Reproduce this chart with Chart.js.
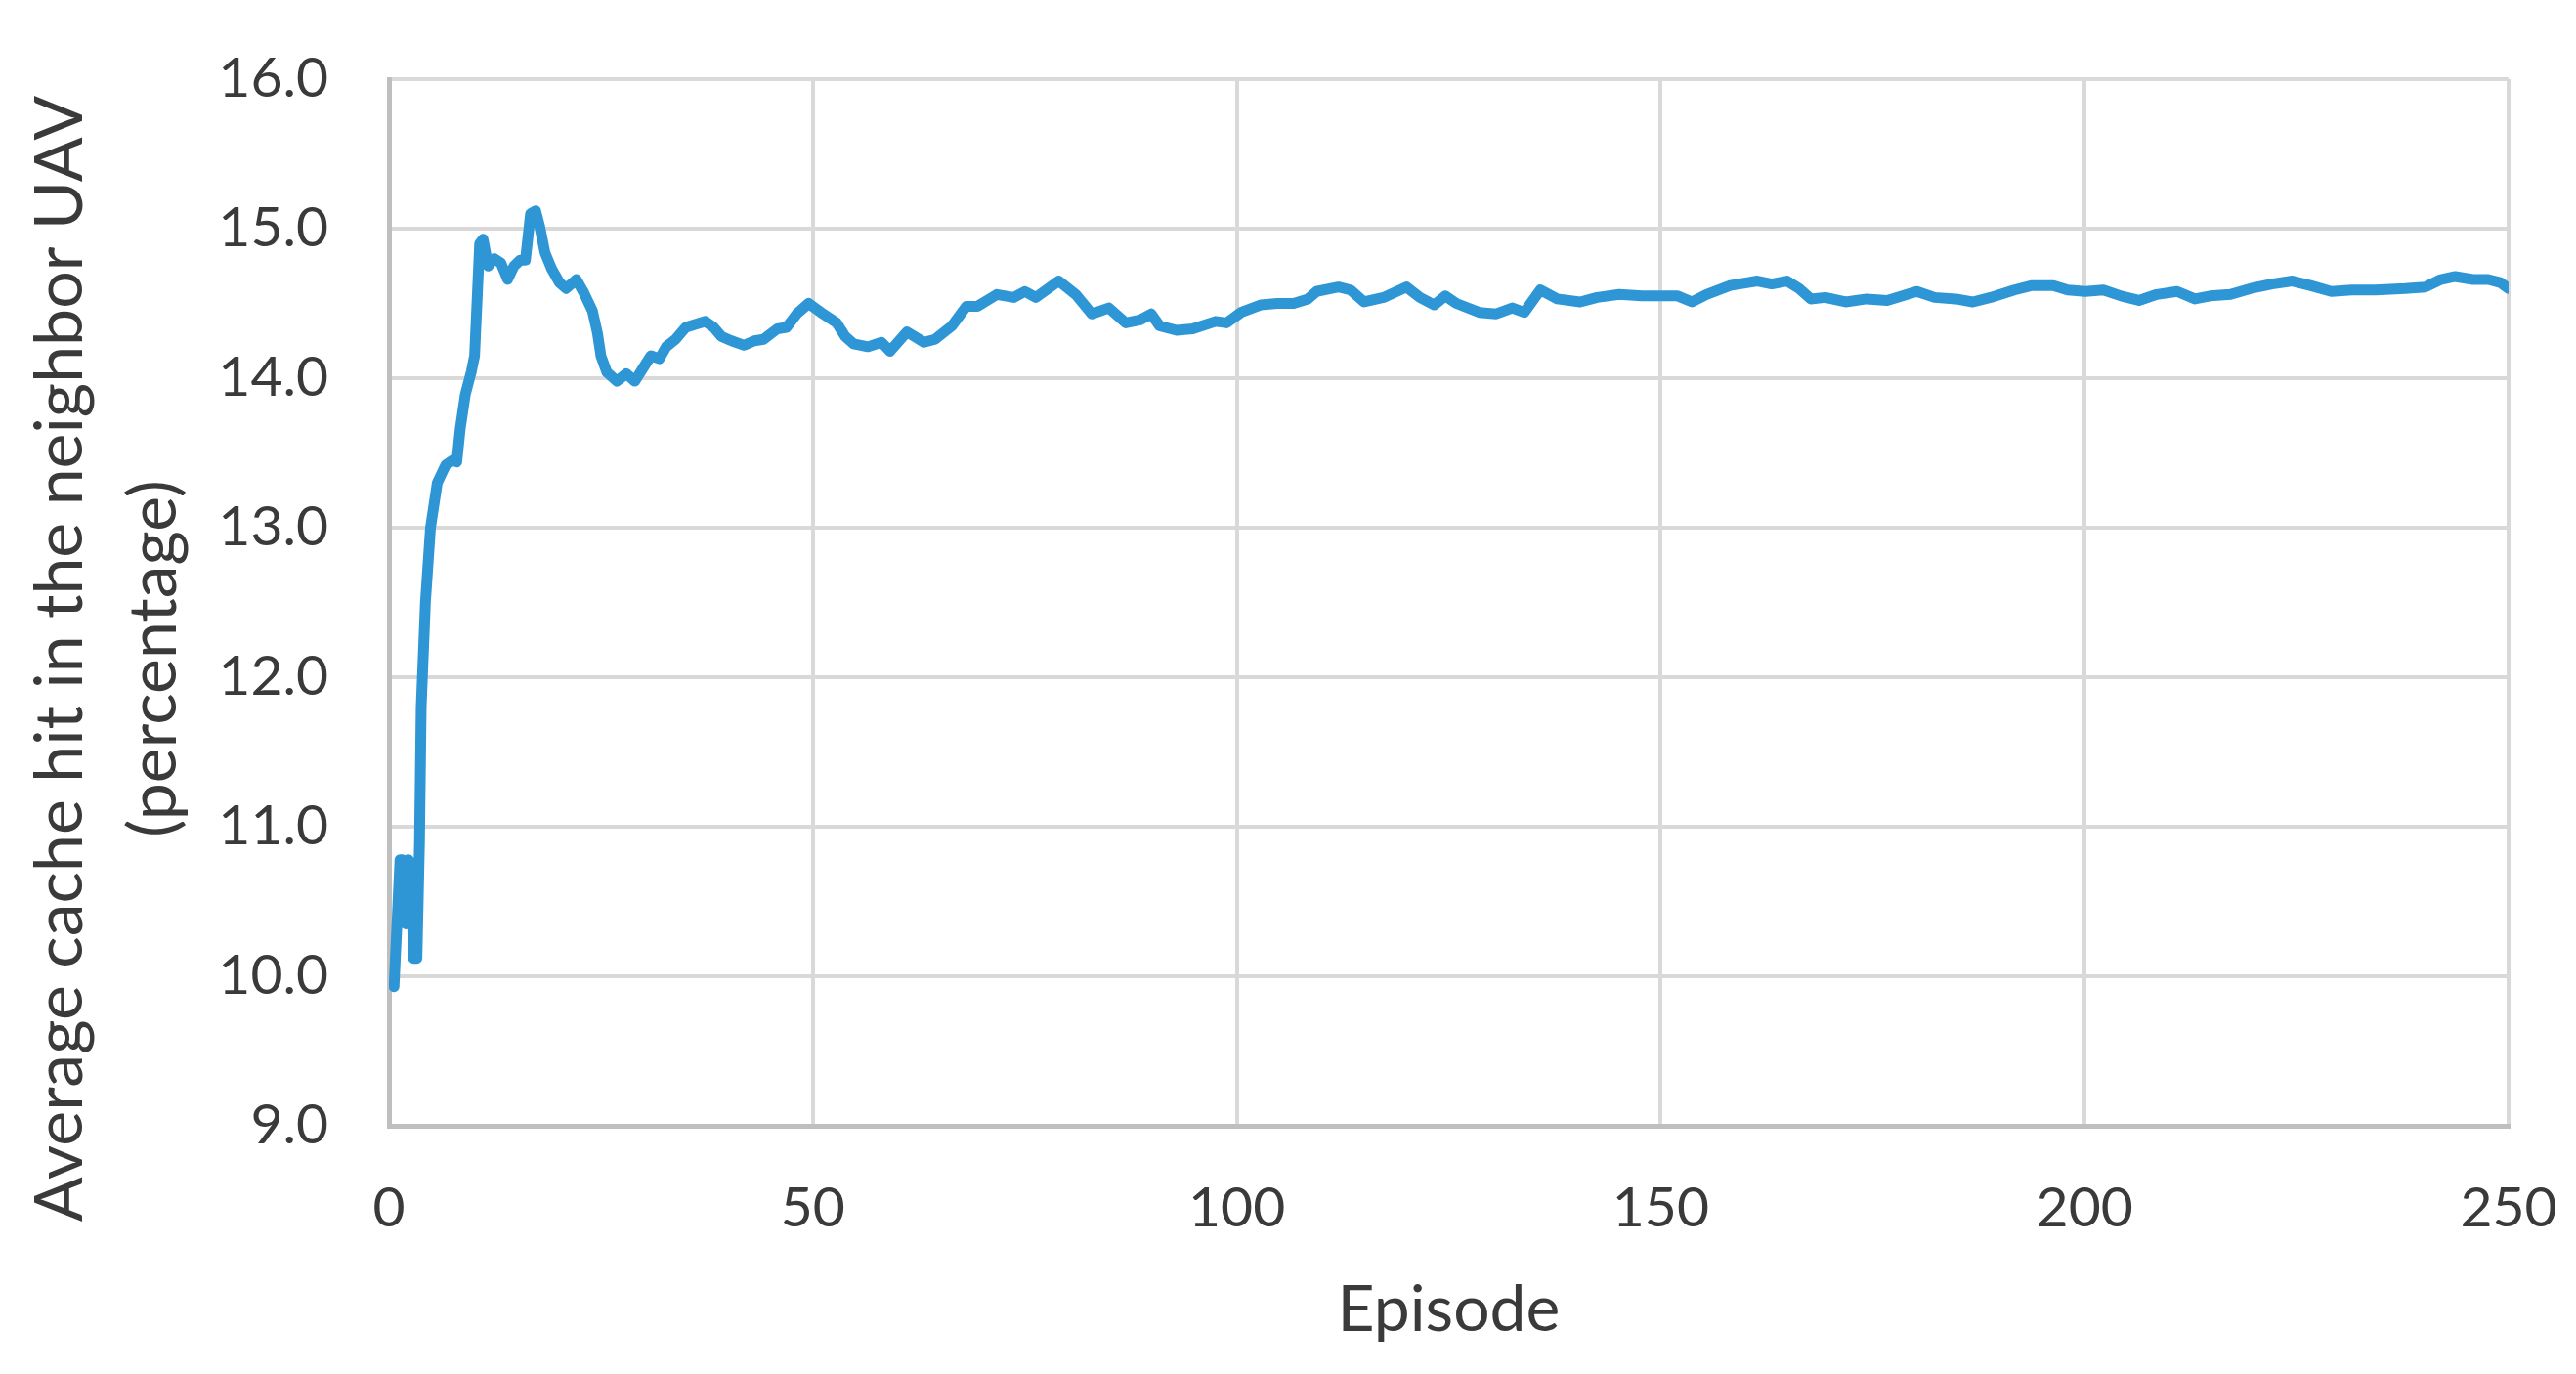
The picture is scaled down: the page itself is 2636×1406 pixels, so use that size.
<!DOCTYPE html>
<html>
<head>
<meta charset="utf-8">
<title>Average cache hit in the neighbor UAV</title>
<script src="https://cdn.jsdelivr.net/npm/chart.js@4/dist/chart.umd.min.js"></script>
<style>
    html, body { margin: 0; padding: 0; background: #ffffff; }
    #chart { display: block; }
</style>
</head>
<body>
<canvas id="chart" width="2636" height="1406"></canvas>
<script>
/* Average cache hit vs. episode */

const episodes = [
    0.6, 1.3, 1.6, 2.0, 2.3, 2.6, 2.9, 3.3, 3.6, 3.8, 4.3, 4.9, 5.7, 6.7, 7.5, 8.0, 8.4, 9.0, 9.7, 10.1,
    10.7, 11.1, 11.7, 12.4, 13.2, 14.0, 14.75, 15.5, 16.1, 16.7, 17.3, 17.8, 18.4, 19.2, 20.1, 20.9,
    22.1, 23.0, 24.0, 24.6, 25.0, 25.7, 26.9, 28.0, 29.0, 30.0, 30.9, 31.9, 32.7, 33.8, 35.0, 36.1,
    37.3, 38.3, 39.2, 40.4, 41.9, 43.1, 44.2, 45.8, 46.9, 48.1, 49.5, 51.2, 52.8, 53.8, 54.8, 56.5,
    58.1, 59.1, 61.1, 63.1, 64.4, 66.4, 68.1, 69.4, 71.7, 73.7, 75.0, 76.3, 79.0, 81.0, 82.9, 84.9,
    86.9, 88.6, 89.9, 90.9, 92.9, 94.8, 97.5, 98.8, 100.5, 102.8, 104.8, 106.7, 108.4, 109.4, 112.0,
    113.4, 115.0, 117.3, 120.0, 121.6, 123.3, 124.6, 125.9, 128.6, 130.6, 132.5, 133.9, 135.8, 137.8,
    140.5, 142.5, 145.1, 147.8, 150.0, 152.0, 153.7, 155.4, 158.2, 161.4, 163.1, 164.9, 166.3, 167.7,
    169.4, 171.8, 174.3, 176.7, 180.2, 182.3, 184.8, 186.8, 188.9, 191.7, 193.8, 196.3, 198.0, 200.1,
    202.2, 204.3, 206.4, 208.5, 210.9, 213.0, 214.8, 217.2, 219.6, 222.1, 224.5, 226.6, 229.1, 231.5,
    234.3, 237.8, 240.2, 242.0, 243.7, 245.8, 247.6, 249.0, 250.0
];

const hitRate = [
    9.93, 10.78, 10.78, 10.35, 10.78, 10.75, 10.12, 10.12, 10.9, 11.8, 12.5, 13.0, 13.3, 13.42, 13.45, 13.44, 13.66, 13.89, 14.04, 14.15,
    14.9, 14.93, 14.75, 14.8, 14.77, 14.66, 14.75, 14.79, 14.79, 15.1, 15.12, 15.01, 14.84, 14.73, 14.64, 14.6,
    14.66, 14.57, 14.45, 14.3, 14.15, 14.04, 13.98, 14.03, 13.98, 14.07, 14.15, 14.13, 14.21, 14.26, 14.34, 14.36,
    14.38, 14.34, 14.28, 14.25, 14.22, 14.25, 14.26, 14.33, 14.34, 14.43, 14.5, 14.43, 14.37, 14.28, 14.23, 14.21,
    14.24, 14.18, 14.31, 14.24, 14.26, 14.35, 14.48, 14.48, 14.56, 14.54, 14.58, 14.54, 14.65, 14.56, 14.43, 14.47,
    14.37, 14.39, 14.43, 14.35, 14.32, 14.33, 14.38, 14.37, 14.44, 14.49, 14.5, 14.5, 14.53, 14.58, 14.61,
    14.59, 14.51, 14.54, 14.61, 14.54, 14.49, 14.55, 14.5, 14.44, 14.43, 14.47, 14.44, 14.59, 14.53,
    14.51, 14.54, 14.56, 14.55, 14.55, 14.55, 14.51, 14.56, 14.62, 14.65, 14.63, 14.65, 14.6, 14.53,
    14.54, 14.51, 14.53, 14.52, 14.58, 14.54, 14.53, 14.51, 14.54, 14.59, 14.62, 14.62, 14.59, 14.58,
    14.59, 14.55, 14.52, 14.56, 14.58, 14.53, 14.55, 14.56, 14.6, 14.63, 14.65, 14.62, 14.58, 14.59,
    14.59, 14.6, 14.61, 14.66, 14.68, 14.66, 14.66, 14.64, 14.6
];

const xTicks = [0, 50, 100, 150, 200, 250];
const yTicks = [9, 10, 11, 12, 13, 14, 15, 16];

const xTitle = 'Episode';
const yTitle = ['Average cache hit in the neighbor UAV', '(percentage)'];

const FONT = "Lato, 'Open Sans', sans-serif";
const TEXT_COLOR = '#3a3a3a';

// Two-line rotated y title, placed where the figure has it
const yTitlePlugin = {
    id: 'yTitle',
    afterDraw(chart) {
        const ctx = chart.ctx;
        const cy = 674;
        const xs = [62, 158];
        ctx.save();
        ctx.fillStyle = TEXT_COLOR;
        ctx.font = '68px ' + FONT;
        ctx.textAlign = 'center';
        ctx.textBaseline = 'middle';
        yTitle.forEach((line, i) => {
            ctx.save();
            ctx.translate(xs[i], cy);
            ctx.rotate(-Math.PI / 2);
            ctx.fillText(line, 0, 0);
            ctx.restore();
        });
        ctx.restore();
    }
};

const points = episodes.map((ep, i) => ({ x: ep, y: hitRate[i] }));

new Chart(document.getElementById('chart').getContext('2d'), {
    type: 'line',
    data: {
        datasets: [{
            data: points,
            borderColor: '#2e96d5',
            borderWidth: 11,
            borderJoinStyle: 'round',
            borderCapStyle: 'round',
            pointRadius: 0,
            tension: 0,
            fill: false
        }]
    },
    options: {
        responsive: false,
        animation: false,
        layout: { padding: { left: 0, right: 69, top: 81, bottom: 0 } },
        plugins: {
            legend: { display: false },
            tooltip: { enabled: false }
        },
        scales: {
            x: {
                type: 'linear',
                min: 0,
                max: 250,
                afterBuildTicks(scale) {
                    scale.ticks = xTicks.map(v => ({ value: v }));
                },
                afterFit(scale) {
                    scale.height = 254;
                    scale.paddingLeft = 0;
                    scale.paddingRight = 0;
                },
                grid: { color: '#d9d9d9', lineWidth: 4, drawTicks: false },
                border: { color: '#bfbfbf', width: 5 },
                ticks: {
                    color: TEXT_COLOR,
                    padding: 50,
                    maxRotation: 0,
                    font: { family: FONT, size: 57 }
                },
                title: {
                    display: true,
                    text: xTitle,
                    color: TEXT_COLOR,
                    font: { family: FONT, size: 66 },
                    padding: { top: 0, bottom: 26 }
                }
            },
            y: {
                min: 9,
                max: 16,
                afterBuildTicks(scale) {
                    scale.ticks = yTicks.map(v => ({ value: v }));
                },
                afterFit(scale) {
                    scale.width = 398;
                    scale.paddingTop = 0;
                    scale.paddingBottom = 0;
                },
                grid: { color: '#d9d9d9', lineWidth: 4, drawTicks: false },
                border: { color: '#bfbfbf', width: 5 },
                ticks: {
                    color: TEXT_COLOR,
                    padding: 62,
                    font: { family: FONT, size: 57 },
                    callback: v => Number(v).toFixed(1)
                }
            }
        }
    },
    plugins: [yTitlePlugin]
});
</script>
</body>
</html>
